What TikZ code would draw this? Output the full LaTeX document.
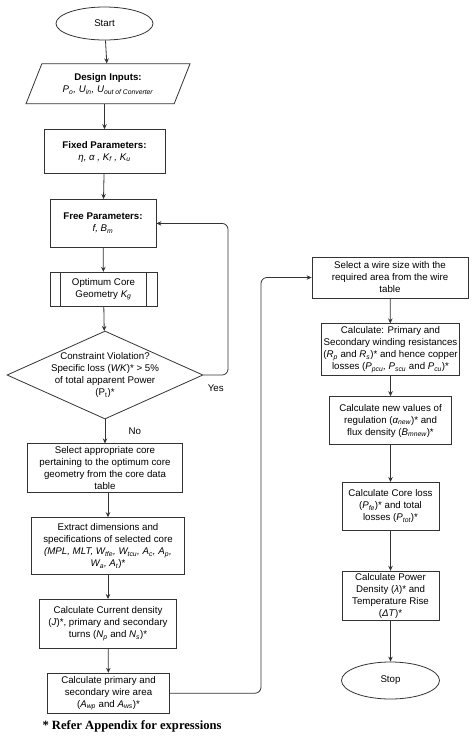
\documentclass[tikz,border=0pt]{standalone}
\usepackage{fontspec}
\setmainfont{Liberation Serif}
\setsansfont{Liberation Sans}
\usepackage{tikz}
\usetikzlibrary{arrows.meta,positioning,shapes.geometric}

\begin{document}
\begin{tikzpicture}[
  x=1pt, y=1pt,
  font=\sffamily\fontsize{9.7}{12}\selectfont,
  term/.style={ellipse, draw=black!80, thick, minimum width=97pt,
    minimum height=33pt, inner sep=1pt},
  io/.style={trapezium, trapezium left angle=55, trapezium right angle=125,
    trapezium stretches body, draw=black!80, thick, minimum width=164pt,
    minimum height=40pt, inner sep=1pt, align=center},
  proc/.style={rectangle, draw=black!80, thick, align=center, inner sep=1.5pt},
  decision/.style={diamond, draw=black!80, thick, aspect=2.23, align=center,
    minimum width=196pt, minimum height=88pt, inner sep=-4pt},
  flow/.style={-{Stealth[length=5pt, width=4.5pt]}, thick, draw=black!80},
]
  \useasboundingbox (0,0) rectangle (474,-739);

  % left column
  \node[term] (start) at (104.5,-23.5) {Start};
  \node[io, below=23pt of start, xshift=3.5pt] (inputs)
    {\textbf{Design Inputs:}\\\textit{P\textsubscript{o}, U\textsubscript{in}, U\textsubscript{out of Converter}}};
  \node[proc, below=25pt of inputs, xshift=-3.5pt, minimum width=121pt,
    minimum height=44pt] (fixed)
    {\textbf{Fixed Parameters:}\\\textit{η, α , K\textsubscript{f} , K\textsubscript{u}}};
  \node[proc, below=25pt of fixed, xshift=-1.5pt, minimum width=106pt,
    minimum height=48pt] (free)
    {\textbf{Free Parameters:}\\\textit{f, B\textsubscript{m}}};
  \node[proc, below=24pt of free, xshift=0.5pt, minimum width=107pt,
    minimum height=34pt] (core)
    {Optimum Core\\Geometry \textit{K\textsubscript{g}}};
  \draw[thick, black!80] ([xshift=11pt]core.north west) -- ([xshift=11pt]core.south west);
  \draw[thick, black!80] ([xshift=-11pt]core.north east) -- ([xshift=-11pt]core.south east);
  \node[decision, below=24pt of core, xshift=1.5pt] (check)
    {Constraint Violation?\\Specific loss (\textit{WK})* \textgreater{} 5\%\\of total apparent Power\\(P\textsubscript{t})*};
  \node[proc, below=24pt of check, minimum width=155pt, minimum height=49pt] (selcore)
    {Select appropriate core\\pertaining to the optimum core\\geometry from the core data\\table};
  \node[proc, below=24pt of selcore, xshift=3pt, minimum width=153pt,
    minimum height=57pt] (extract)
    {Extract dimensions and\\specifications of selected core\\\textit{(MPL, MLT, W\textsubscript{tfe}, W\textsubscript{tcu}, A\textsubscript{c}, A\textsubscript{p},}\\\textit{W\textsubscript{a}, A\textsubscript{t}})*};
  \node[proc, below=24pt of extract, minimum width=137pt, minimum height=49pt] (density)
    {Calculate Current density\\(\textit{J})*, primary and secondary\\turns (\textit{N\textsubscript{p}} and \textit{N\textsubscript{s}})*};
  \node[proc, below=24pt of density, xshift=0.5pt, minimum width=122pt,
    minimum height=40pt] (wirearea)
    {Calculate primary and\\secondary wire area\\(\textit{A\textsubscript{wp}} and \textit{A\textsubscript{ws}})*};
  \node[font=\rmfamily\bfseries\fontsize{12.6}{14}\selectfont] (note) at (132,-726)
    {* Refer Appendix for expressions};

  % right column
  \node[proc, minimum width=156pt, minimum height=41pt] (selwire) at (390,-277.5)
    {Select a wire size with the\\required area from the wire\\table};
  \node[proc, below=25pt of selwire, xshift=0.5pt, minimum width=135pt,
    minimum height=52pt] (resist)
    {Calculate: Primary and\\Secondary winding resistances\\(\textit{R\textsubscript{p}} and \textit{R\textsubscript{s}})* and hence copper\\losses (\textit{P\textsubscript{pcu}, P\textsubscript{scu}} and \textit{P\textsubscript{cu}})*};
  \node[proc, below=20pt of resist, minimum width=122pt, minimum height=48pt] (regul)
    {Calculate new values of\\regulation (\textit{α\textsubscript{new}})* and\\flux density (\textit{B\textsubscript{mnew}})*};
  \node[proc, below=37pt of regul, minimum width=97pt, minimum height=48pt] (coreloss)
    {Calculate Core loss\\(\textit{P\textsubscript{fe}})* and total\\losses (\textit{P\textsubscript{tot}})*};
  \node[proc, below=40pt of coreloss, minimum width=97pt, minimum height=49pt,
    inner sep=0pt] (power)
    {Calculate Power\\Density (\textit{λ})* and\\Temperature Rise\\(\textit{ΔT})*};
  \node[term, below=41pt of power, minimum height=37pt, minimum width=98pt] (stop) {Stop};

  \coordinate (loop) at (228,0);
  \coordinate (route) at (261,0);

  % connectors
  \draw[flow] (start) -- (inputs);
  \draw[flow] (inputs.south -| start) -- (fixed);
  \draw[flow] (fixed) -- (free);
  \draw[flow] (free) -- (core);
  \draw[flow] (core) -- (check);
  \draw[flow] (check) -- node[right=20pt] {No} (selcore);
  \draw[flow, rounded corners=6pt] (check.east) -- node[below=6pt] {Yes}
    (check.east -| loop) |- (free.east);
  \draw[flow] (selcore.south -| extract) -- (extract);
  \draw[flow] (extract) -- (density);
  \draw[flow] (density) -- (wirearea);
  \draw[flow, rounded corners=6pt] (wirearea.east) -- (wirearea.east -| route)
    |- (selwire.west);
  \draw[flow] (selwire) -- (resist);
  \draw[flow] (resist) -- (regul);
  \draw[flow] (regul) -- (coreloss);
  \draw[flow] (coreloss) -- (power);
  \draw[flow] (power) -- (stop);
\end{tikzpicture}
\end{document}
